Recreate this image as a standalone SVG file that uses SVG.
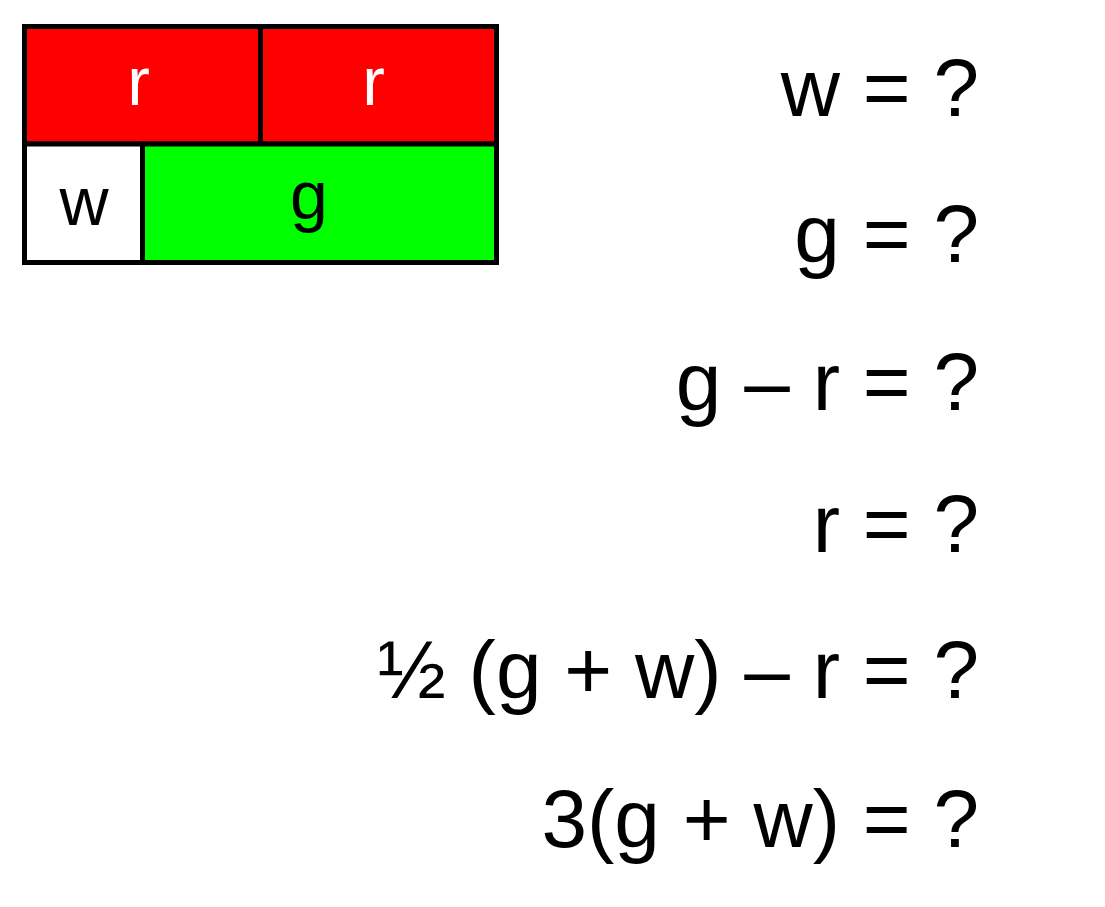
<svg xmlns="http://www.w3.org/2000/svg" width="1105" height="907" viewBox="0 0 1105 907">
<style>
.cell{stroke:#000;stroke-width:5}
.lbl{font-family:"Liberation Sans",Arial,sans-serif;font-size:68px;text-anchor:middle}
.eq{font-family:"Liberation Sans",Arial,sans-serif;font-size:82px;text-anchor:end;fill:#000}
</style>
<rect width="1105" height="907" fill="#fff"/>
<g id="bar-model">
<g id="r1"><rect class="cell" x="24.5" y="26.5" width="236" height="117.5" fill="#ff0000"/><text class="lbl" x="138.5" y="105" fill="#fff">r</text></g>
<g id="r2"><rect class="cell" x="260.5" y="26.5" width="236" height="117.5" fill="#ff0000"/><text class="lbl" x="373.5" y="105" fill="#fff">r</text></g>
<g id="w"><rect class="cell" x="24.5" y="144" width="118" height="118.5" fill="#ffffff"/><text class="lbl" x="84" y="225" fill="#000">w</text></g>
<g id="g"><rect class="cell" x="142.5" y="144" width="354" height="118.5" fill="#00ff00"/><text class="lbl" x="309" y="219" fill="#000">g</text></g>
</g>
<g id="connectors"/>
<g id="questions">
<text class="eq" x="979" y="116">w = ?</text>
<text class="eq" x="979" y="262">g = ?</text>
<text class="eq" x="979" y="410">g – r = ?</text>
<text class="eq" x="979" y="552">r = ?</text>
<text class="eq" x="979" y="698">½ (g + w) – r = ?</text>
<text class="eq" x="979" y="847">3(g + w) = ?</text>
</g>
</svg>
